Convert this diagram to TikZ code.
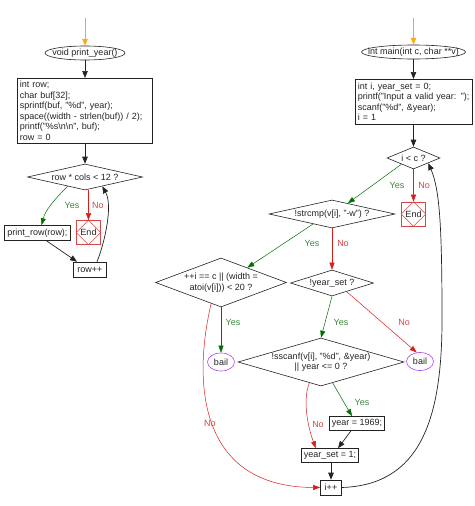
\documentclass[tikz,border=0pt]{standalone}
\usepackage{fontspec}
\setmainfont{Liberation Sans}
\usetikzlibrary{arrows.meta,shapes.geometric,calc}
\definecolor{ygreen}{RGB}{0,110,0}
\definecolor{ylab}{RGB}{60,135,60}
\definecolor{nred}{RGB}{215,30,30}
\definecolor{nlab}{RGB}{215,70,70}
\definecolor{endred}{RGB}{210,70,70}
\definecolor{bailpur}{RGB}{170,70,235}
\definecolor{startor}{RGB}{255,170,20}
\definecolor{ink}{RGB}{35,35,35}
\begin{document}
\begin{tikzpicture}[x=1pt,y=-1pt,
 every node/.style={font=\fontsize{9}{10.5}\selectfont, text=ink},
 proc/.style={draw=ink, rectangle, inner xsep=2.5pt, inner ysep=1.5pt, line width=0.6pt},
 codebox/.style={proc, align=left, anchor=north west},
 dec/.style={draw=ink, diamond, inner sep=0pt, align=center, line width=0.6pt},
 term/.style={inner sep=0pt, minimum height=14pt},
 termline/.style={draw=ink, line width=0.6pt},
 endbox/.style={draw=endred, rectangle, minimum size=24pt, inner sep=0pt, line width=0.6pt},
 bailnode/.style={ellipse, draw=bailpur, inner sep=0pt, line width=0.6pt, minimum width=27pt, minimum height=18pt},
 flow/.style={-{Triangle[length=7pt,width=5.5pt]}, line width=0.7pt, draw=ink},
 yesflow/.style={-{Triangle[length=7pt,width=5pt]}, line width=0.5pt, draw=ygreen},
 noflow/.style={-{Triangle[length=7pt,width=5pt]}, line width=0.5pt, draw=nred},
 startflow/.style={-{Triangle[length=7pt,width=5.5pt]}, line width=0.8pt, draw=startor},
 ylabel/.style={text=ylab},
 nlabel/.style={text=nlab}
]
\useasboundingbox (0,0) rectangle (474,506);

% ---------- left: print_year ----------
\coordinate (s1) at (85,18);
\node[term, minimum width=80pt] (e1) at (85,53) {void print\_year()};
\draw[termline] (e1.center) ellipse [x radius=40pt, y radius=7pt];
\node[codebox, text width=130pt, minimum height=65pt] (b1) at (17,78)
 {int row;\\char buf[32];\\sprintf(buf, "\%d", year);\\space((width - strlen(buf)) / 2);\\printf("\%s\textbackslash n\textbackslash n", buf);\\row = 0};
\node[dec, minimum width=115pt, minimum height=26pt, aspect=4.4] (d1) at (85,177) {row * cols < 12 ?};
\node[endbox] (end1) at (88.5,232.5) {End};
\draw[endred, line width=0.6pt] (end1.north) -- (end1.east) -- (end1.south) -- (end1.west) -- cycle;
\node[proc, minimum width=66pt, minimum height=15pt, inner ysep=0pt] (prow) at (37.5,233) {print\_row(row);};
\node[proc, minimum width=33pt, minimum height=15pt, inner ysep=0pt] (rowpp) at (90,269.5) {row++};

\draw[startflow] (s1) -- (e1.north);
\draw[flow] (e1.south) -- (e1.south |- b1.north);
\draw[flow] (d1.north |- b1.south) -- (d1.north);
\draw[yesflow] ($(d1.south)!0.3!(d1.west)$) .. controls +(-15,15) and +(4,-15) .. ([xshift=4pt]prow.north);
\node[ylabel] (y1) at (72,205) {Yes};
\draw[noflow] (end1.north |- d1.south) -- (end1.north);
\node[nlabel] (n1) at (98,205) {No};
\draw[flow] ([xshift=9pt]prow.south) -- ([xshift=-13pt]rowpp.north);
\draw[flow] ([xshift=7pt]rowpp.north) .. controls +(7,-17) and +(11,20) .. ($(d1.south)!0.3!(d1.east)$);

% ---------- right: main ----------
\coordinate (s2) at (413.5,18);
\node[term, minimum width=103pt] (e2) at (413.5,52) {int main(int c, char **v)};
\draw[termline] (e2.center) ellipse [x radius=52pt, y radius=7pt];
\node[codebox, text width=112pt, minimum height=45pt] (b2) at (355,79)
 {int i, year\_set = 0;\\printf("Input a valid year: ");\\scanf("\%d", \&year);\\i = 1};
\node[dec, minimum width=53pt, minimum height=22pt, aspect=2.4] (d2) at (413.5,158) {i < c ?};
\node[endbox] (end2) at (413.5,214) {End};
\draw[endred, line width=0.6pt] (end2.north) -- (end2.east) -- (end2.south) -- (end2.west) -- cycle;
\node[dec, minimum width=126pt, minimum height=28pt, aspect=4.5] (d3) at (332,214) {!strcmp(v[i], "-w") ?};
\node[dec, minimum width=131pt, minimum height=49pt, aspect=2.67] (d4) at (221,282.5) {++i == c || (width =\\atoi(v[i])) < 20 ?};
\node[dec, minimum width=83pt, minimum height=26pt, aspect=3.2] (d5) at (332,283) {!year\_set ?};
\node[bailnode] (bail1) at (221,362) {bail};
\node[bailnode] (bail2) at (420,361.5) {bail};
\node[dec, minimum width=166pt, minimum height=48pt, aspect=3.46] (d6) at (321,362) {!sscanf(v[i], "\%d", \&year)\\|| year <= 0 ?};
\node[proc, minimum width=55pt, minimum height=14pt, inner ysep=0pt] (y1969) at (357,423.5) {year = 1969;};
\node[proc, minimum width=57pt, minimum height=14pt, inner ysep=0pt] (yset) at (330,455.5) {year\_set = 1;};
\node[proc, minimum width=21pt, minimum height=15pt, inner ysep=0pt] (ipp) at (331,487.5) {i++};

\draw[startflow] (s2) -- (e2.north);
\draw[flow] (e2.south) -- (e2.south |- b2.north);
\draw[flow] (d2.north |- b2.south) -- (d2.north);
\draw[yesflow] ($(d2.south)!0.45!(d2.west)$) -- ($(d3.north)!0.25!(d3.east)$);
\node[ylabel] (y2) at (397,185) {Yes};
\draw[noflow] (d2.south) -- (end2.north);
\node[nlabel] (n2) at (424,185) {No};
\draw[yesflow] ($(d3.south)!0.3!(d3.west)$) -- ($(d4.north)!0.4!(d4.east)$);
\node[ylabel] (y3) at (312,243) {Yes};
\draw[noflow] (d3.south) -- (d5.north);
\node[nlabel] (n3) at (343,243) {No};
\draw[yesflow] (d4.south) -- (bail1.north);
\node[ylabel] (y4) at (233,322) {Yes};
\draw[noflow] ($(d4.south)!0.15!(d4.west)$) .. controls (192,385) and (200,487) .. (ipp.west);
\node[nlabel] (n4) at (210,423) {No};
\draw[yesflow] (d5.south) -- (d6.north);
\node[ylabel] (y5) at (341,322) {Yes};
\draw[noflow] ($(d5.south)!0.35!(d5.east)$) -- (bail2.110);
\node[nlabel] (n5) at (404,322) {No};
\draw[yesflow] ($(d6.south)!0.14!(d6.east)$) -- ([xshift=-5pt]y1969.north);
\node[ylabel] (y6) at (362,402) {Yes};
\draw[noflow] ($(d6.south)!0.14!(d6.west)$) .. controls +(-8,20) and +(-6,-15) .. ([xshift=-14pt]yset.north);
\node[nlabel] (n6) at (318,424) {No};
\draw[flow] ([xshift=-6pt]y1969.south) -- ([xshift=8pt]yset.north);
\draw[flow] (ipp.north |- yset.south) -- (ipp.north);
\draw[flow] (ipp.east) .. controls (420,485) and (442,420) .. (442,320) .. controls (442,230) and (440,190) .. ($(d2.south)!0.55!(d2.east)$);
\end{tikzpicture}
\end{document}
